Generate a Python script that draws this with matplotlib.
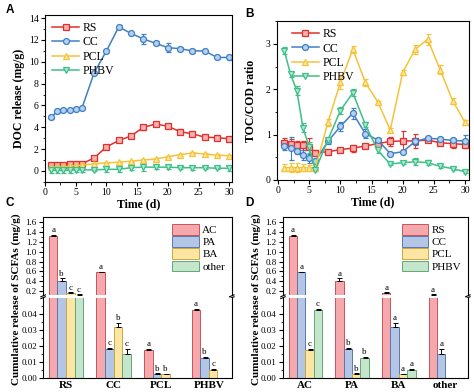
import matplotlib
matplotlib.use("Agg")
import matplotlib.pyplot as plt
import numpy as np
from matplotlib.lines import Line2D
from matplotlib.ticker import AutoMinorLocator, MultipleLocator, FormatStrFormatter, FixedLocator

plt.rcParams['font.family'] = ['Liberation Serif', 'DejaVu Serif']
plt.rcParams['font.size'] = 8

# ---- data ----
days = [1, 2, 3, 4, 5, 6, 8, 10, 12, 14, 16, 18, 20, 22, 24, 26, 28, 30]
names = ['RS', 'CC', 'PCL', 'PHBV']

doc_rs = [0.55, 0.55, 0.55, 0.6, 0.6, 0.65, 1.2, 2.2, 2.8, 3.2, 4.0, 4.3, 4.1, 3.6, 3.4, 3.1, 3.05, 2.95]
doc_cc = [4.9, 5.5, 5.55, 5.6, 5.7, 5.75, 9.0, 11.0, 13.2, 12.6, 12.1, 11.7, 11.3, 11.2, 11.0, 11.0, 10.4, 10.4]
doc_pcl = [0.35, 0.4, 0.4, 0.45, 0.5, 0.55, 0.65, 0.75, 0.8, 0.9, 1.0, 1.1, 1.3, 1.5, 1.65, 1.55, 1.45, 1.4]
doc_phbv = [0.05, 0.05, 0.05, 0.05, 0.1, 0.1, 0.1, 0.15, 0.15, 0.3, 0.35, 0.35, 0.35, 0.3, 0.3, 0.3, 0.25, 0.25]
doc_rs_err = [0.1, 0.1, 0.1, 0.1, 0.1, 0.1, 0.1, 0.15, 0.15, 0.15, 0.25, 0.2, 0.15, 0.25, 0.15, 0.15, 0.2, 0.15]
doc_cc_err = [0.1, 0.15, 0.1, 0.1, 0.1, 0.1, 0.1, 0.1, 0.15, 0.15, 0.45, 0.2, 0.4, 0.15, 0.2, 0.1, 0.15, 0.25]
doc_pcl_err = [0.05, 0.05, 0.05, 0.05, 0.05, 0.05, 0.05, 0.05, 0.05, 0.05, 0.1, 0.1, 0.1, 0.1, 0.1, 0.1, 0.1, 0.1]
doc_phbv_err = [0.2, 0.2, 0.2, 0.2, 0.2, 0.2, 0.1, 0.2, 0.25, 0.25, 0.35, 0.15, 0.2, 0.15, 0.2, 0.15, 0.1, 0.25]

ratio_rs = [0.82, 0.8, 0.78, 0.76, 0.72, 0.6, 0.62, 0.67, 0.7, 0.75, 0.8, 0.85, 0.86, 0.86, 0.88, 0.82, 0.8, 0.78]
ratio_cc = [0.75, 0.7, 0.63, 0.55, 0.48, 0.42, 0.85, 1.18, 1.47, 1.02, 0.88, 0.58, 0.62, 0.85, 0.92, 0.9, 0.87, 0.86]
ratio_pcl = [0.27, 0.27, 0.27, 0.27, 0.27, 0.27, 1.27, 2.15, 2.88, 2.15, 1.72, 1.1, 2.37, 2.88, 3.1, 2.43, 1.75, 1.27]
ratio_phbv = [2.85, 2.33, 1.97, 1.15, 0.72, 0.22, 0.88, 1.53, 1.92, 1.22, 0.65, 0.35, 0.38, 0.4, 0.38, 0.3, 0.25, 0.18]
ratio_rs_err = [0.1, 0.1, 0.08, 0.1, 0.2, 0.05, 0.03, 0.03, 0.08, 0.03, 0.05, 0.1, 0.22, 0.15, 0.05, 0.05, 0.1, 0.08]
ratio_cc_err = [0.1, 0.25, 0.05, 0.1, 0.1, 0.05, 0.05, 0.1, 0.12, 0.1, 0.05, 0.03, 0.03, 0.08, 0.03, 0.05, 0.05, 0.12]
ratio_pcl_err = [0.08, 0.1, 0.1, 0.08, 0.05, 0.05, 0.08, 0.15, 0.08, 0.08, 0.03, 0.05, 0.05, 0.1, 0.12, 0.1, 0.05, 0.05]
ratio_phbv_err = [0.08, 0.05, 0.1, 0.1, 0.12, 0.03, 0.05, 0.08, 0.08, 0.05, 0.05, 0.03, 0.03, 0.08, 0.05, 0.03, 0.03, 0.03]

acids = ['AC', 'PA', 'BA', 'other']
# rows: material, cols: acid (mg/g); 0 = not detected
scfa = [[1.31, 0.41, 0.17, 0.13],
        [0.58, 0.0178, 0.032, 0.0148],
        [0.0175, 0.0025, 0.0023, 0.0],
        [0.0425, 0.0127, 0.0051, 0.0]]
scfa_err = [[0.03, 0.05, 0.008, 0.005],
            [0.01, 0.0008, 0.0025, 0.0035],
            [0.0004, 0.0003, 0.0004, 0.0],
            [0.0005, 0.0003, 0.0003, 0.0]]
letters_c = [['a', 'b', 'c', 'c'], ['a', 'c', 'b', 'c'], ['a', 'b', 'b', ''], ['a', 'b', 'c', '']]
letters_d = [['a', 'a', 'c', 'c'], ['a', 'b', 'b', 'b'], ['a', 'a', 'a', 'a'], ['a', 'a', '', '']]

line_colors = ['#E2302C', '#3F80C5', '#F5C338', '#3DBF8A']
face_colors = ['#F3B0AE', '#B7D0EC', '#FBE6A4', '#B4E6CF']
markers = ['s', 'o', '^', 'v']
bar_fill = ['#F6A9AC', '#B3C6E6', '#FDE5A3', '#C4E7CC']
bar_edge = ['#C7545C', '#5A78AE', '#C9A842', '#64A676']

fig = plt.figure(figsize=(4.74, 3.92), dpi=100)


def style_axis(ax, size=7):
    ax.tick_params(which='both', direction='out', top=False, right=False, labelsize=size, pad=1.5)
    ax.tick_params(which='major', length=3, width=0.8)
    ax.tick_params(which='minor', length=1.8, width=0.6)
    for s in ax.spines.values():
        s.set_linewidth(0.8)


def line_panel(rect, series, errs, ylim, ystep, ylabel, lpad, legend_x):
    ax = fig.add_axes(rect)
    handles = []
    for y, e, c, fc, m, lab in zip(series, errs, line_colors, face_colors, markers, names):
        ax.errorbar(days, y, yerr=e, color=c, marker=m, markersize=4.3, markerfacecolor=fc,
                    markeredgecolor=c, markeredgewidth=0.9, linewidth=1.1, capsize=1.8,
                    elinewidth=0.8)
        handles.append(Line2D([], [], color=c, marker=m, markersize=4.3, markerfacecolor=fc,
                              markeredgecolor=c, markeredgewidth=0.9, linewidth=1.1, label=lab))
    ax.set_ylim(*ylim)
    ax.xaxis.set_major_locator(MultipleLocator(5))
    ax.yaxis.set_major_locator(MultipleLocator(ystep))
    ax.xaxis.set_minor_locator(AutoMinorLocator(2))
    ax.yaxis.set_minor_locator(AutoMinorLocator(2))
    style_axis(ax)
    ax.set_ylabel(ylabel, fontsize=8.5, fontweight='bold', labelpad=lpad)
    ax.set_xlabel('Time (d)', fontsize=8.5, fontweight='bold', labelpad=1)
    ax.legend(handles=handles, loc='upper left', frameon=False, fontsize=8.5, handlelength=2.3,
              borderaxespad=0.2, labelspacing=0.2, handletextpad=0.3,
              bbox_to_anchor=(legend_x, 1.0))
    return ax


axA = line_panel([0.095, 0.536, 0.394, 0.426], [doc_rs, doc_cc, doc_pcl, doc_phbv],
                 [doc_rs_err, doc_cc_err, doc_pcl_err, doc_phbv_err],
                 (-1, 14.3), 2, 'DOC release (mg/g)', 3, 0.0)
axA.set_xlim(0, 30.4)

axB = line_panel([0.584, 0.541, 0.405, 0.405], [ratio_rs, ratio_cc, ratio_pcl, ratio_phbv],
                 [ratio_rs_err, ratio_cc_err, ratio_pcl_err, ratio_phbv_err],
                 (0, 3.5), 1, 'TOC/COD ratio', 6, 0.04)
axB.set_xlim(-0.2, 30.6)


# ---- panels C & D: broken y-axis bar charts ----
def broken_bars(left, right, groups, vals, errs, letters, series_names):
    bottom, mid_lo, mid_hi, top = 0.036, 0.240, 0.247, 0.446
    axU = fig.add_axes([left, mid_hi, right - left, top - mid_hi])
    axL = fig.add_axes([left, bottom, right - left, mid_lo - bottom])
    n = len(series_names)
    w = 0.18
    x = np.arange(len(groups))
    for j in range(n):
        xs = x + (j - (n - 1) / 2) * w
        v = np.array([vals[i][j] for i in range(len(groups))])
        e = np.array([errs[i][j] for i in range(len(groups))])
        keep = v > 0
        for ax in (axU, axL):
            ax.bar(xs[keep], v[keep], width=w, color=bar_fill[j], edgecolor=bar_edge[j],
                   linewidth=0.7, label=series_names[j] if ax is axU else None)
            ax.errorbar(xs[keep], v[keep], yerr=[np.zeros(keep.sum()), e[keep]], fmt='none',
                        ecolor='black', elinewidth=0.7, capsize=1.8, capthick=0.7)
        for i in range(len(groups)):
            if not keep[i]:
                continue
            topv = v[i] + e[i]
            if topv > 0.12:
                axU.text(xs[i], topv + 0.015, letters[i][j], ha='center', va='bottom', fontsize=6.5)
            else:
                axL.text(xs[i], topv + 0.0005, letters[i][j], ha='center', va='bottom', fontsize=6.5)
    axU.set_ylim(0.12, 1.7)
    axL.set_ylim(0, 0.05)
    for ax in (axU, axL):
        ax.set_xlim(-0.48, len(groups) - 1 + 0.48)
        style_axis(ax, 6.5)
    axU.yaxis.set_major_locator(FixedLocator([0.2, 0.4, 0.6, 0.8, 1.0, 1.2, 1.4, 1.6]))
    axU.yaxis.set_minor_locator(FixedLocator([0.3, 0.5, 0.7, 0.9, 1.1, 1.3, 1.5]))
    axU.yaxis.set_major_formatter(FormatStrFormatter('%.1f'))
    axL.yaxis.set_major_locator(FixedLocator([0.0, 0.01, 0.02, 0.03, 0.04]))
    axL.yaxis.set_minor_locator(FixedLocator([0.005, 0.015, 0.025, 0.035, 0.045]))
    axL.yaxis.set_major_formatter(FormatStrFormatter('%.2f'))
    axU.spines['bottom'].set_visible(False)
    axL.spines['top'].set_visible(False)
    axU.tick_params(axis='x', which='both', bottom=False, labelbottom=False)
    axL.set_xticks(x)
    axL.set_xticklabels(groups, fontsize=8, fontweight='bold')
    axL.tick_params(axis='x', which='both', length=0, pad=2)
    # break marks
    for xa in (0, 1):
        for dy in (-0.012, 0.012):
            axU.plot([xa - 0.012, xa + 0.012], [dy - 0.02 - 0.012, dy - 0.02 + 0.012],
                     transform=axU.transAxes, color='black', lw=0.8, clip_on=False)
    axU.legend(loc='upper right', frameon=False, fontsize=8, handlelength=2.4,
               handleheight=1.1, labelspacing=0.1, handletextpad=0.3, borderaxespad=0.2)
    fig.text(left - 0.056, (bottom + top) / 2 - 0.005, 'Cumulative release of SCFAs (mg/g)',
             rotation=90, ha='center', va='center', fontsize=8, fontweight='bold')
    return axU, axL


broken_bars(0.091, 0.489, names, scfa, scfa_err, letters_c, acids)
scfa_t = [[scfa[i][j] for i in range(4)] for j in range(4)]
err_t = [[scfa_err[i][j] for i in range(4)] for j in range(4)]
broken_bars(0.597, 0.987, acids, scfa_t, err_t, letters_d, names)

# panel letters
for lab, (px, py) in zip('ABCD', [(0.012, 0.975), (0.518, 0.965), (0.012, 0.482), (0.518, 0.482)]):
    fig.text(px, py, lab, fontsize=8.5, fontweight='bold', family='Liberation Sans', va='center')

fig.savefig('out.png', dpi=100)
